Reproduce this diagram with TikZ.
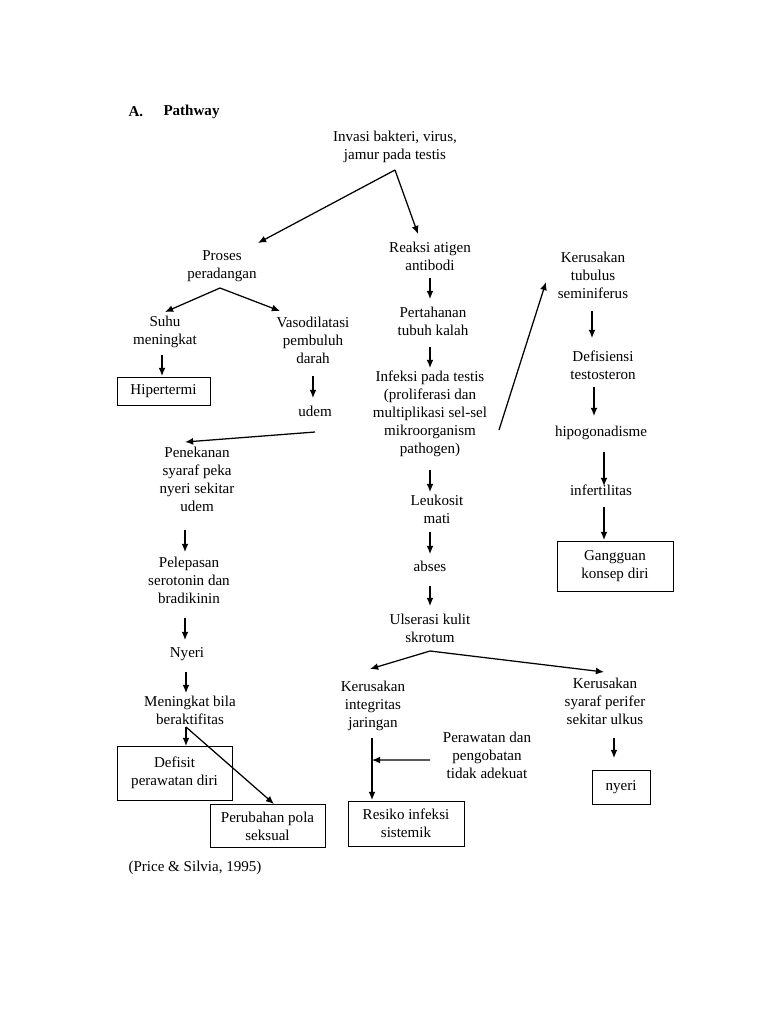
\documentclass[tikz,border=0pt]{standalone}
\usepackage{fontspec}
\setmainfont{Liberation Serif}
\usetikzlibrary{arrows.meta,calc}
\begin{document}
\begin{tikzpicture}[x=0.797pt,y=-0.797pt,
  txt/.style={align=center,inner sep=1pt,font=\fontsize{12}{14.3}\selectfont},
  box/.style={draw,line width=0.75pt,align=center,inner sep=1pt,font=\fontsize{12}{14.3}\selectfont},
  arr/.style={-{Latex[length=6.5pt,width=5.5pt]},line width=1pt}]
\useasboundingbox[fill=white] (0,0) rectangle (768,1024);

% title
\node[txt,anchor=west] (a) at (127,112) {\textbf{A.}};
\node[txt,anchor=west] (pw) at (162,112) {\textbf{Pathway}};

% nodes
\node[txt] (inv) at (395,147) {Invasi bakteri, virus,\\jamur pada testis};
\node[txt] (pro) at (222,266) {Proses\\peradangan};
\node[txt] (rea) at (430,256) {Reaksi atigen\\antibodi};
\node[txt] (suhu) at (165,332) {Suhu\\meningkat};
\node[txt] (vaso) at (313,340) {Vasodilatasi\\pembuluh\\darah};
\node[box,minimum width=74.1pt,minimum height=22.3pt] (hip) at (163.5,391) {Hipertermi};
\node[txt] (udem) at (315,411) {udem};
\node[txt] (pen) at (197,479) {Penekanan\\syaraf peka\\nyeri sekitar\\udem};
\node[txt] (pel) at (189,580) {Pelepasan\\serotonin dan\\bradikinin};
\node[txt] (nyeri) at (187,654) {Nyeri};
\node[txt] (men) at (190,710.5) {Meningkat bila\\beraktifitas};
\node[box,minimum width=91.7pt,minimum height=43pt] (defi) at (174.5,773) {Defisit\\perawatan diri};
\node[box,minimum width=91.7pt,minimum height=35pt] (perub) at (267.5,826) {Perubahan pola\\seksual};
\node[txt,anchor=west] (price) at (127,868) {(Price \& Silvia, 1995)};

\node[txt] (per) at (433,321.5) {Pertahanan\\tubuh kalah};
\node[txt] (inf) at (430,414) {Infeksi pada testis\\(proliferasi dan\\multiplikasi sel-sel\\mikroorganism\\pathogen)};
\node[txt] (leu) at (437,509) {Leukosit\\mati};
\node[txt] (abses) at (430,566) {abses};
\node[txt] (ulc) at (430,628.5) {Ulserasi kulit\\skrotum};
\node[txt] (kin) at (373,706) {Kerusakan\\integritas\\jaringan};
\node[txt] (ada) at (487,755.5) {Perawatan dan\\pengobatan\\tidak adekuat};
\node[box,minimum width=92.5pt,minimum height=35.9pt] (resiko) at (406,823.5) {Resiko infeksi\\sistemik};
\node[txt] (ksp) at (605,701) {Kerusakan\\syaraf perifer\\sekitar ulkus};
\node[box,minimum width=46.2pt,minimum height=27.1pt] (nyb) at (621,787) {nyeri};

\node[txt] (ktub) at (593,275) {Kerusakan\\tubulus\\seminiferus};
\node[txt] (def) at (603,365.5) {Defisiensi\\testosteron};
\node[txt] (hipo) at (601,433) {hipogonadisme};
\node[txt] (infert) at (601,490) {infertilitas};
\node[box,minimum width=92.5pt,minimum height=39.9pt] (gang) at (615,566) {Gangguan\\konsep diri};

% connectors
\draw[arr] ($(inv)+(0,23)$) -- ($(pro)+(36,-23)$);
\draw[arr] ($(inv)+(0,23)$) -- ($(rea)+(-12,-22)$);
\draw[arr] ($(pro)+(-2,22)$) -- ($(suhu)+(0,-20)$);
\draw[arr] ($(pro)+(-2,22)$) -- ($(vaso)+(-33,-29)$);
\draw[arr] ($(suhu)+(-3,23)$) -- ($(hip)+(-1.5,-15)$);
\draw[arr] ($(vaso)+(0,36)$) -- ($(udem)+(-2,-13)$);
\draw[arr] ($(udem)+(0,21)$) -- ($(pen)+(-12,-37)$);
\draw[arr] ($(pen)+(-12,51)$) -- ($(pel)+(-4,-28)$);
\draw[arr] ($(pel)+(-4,38)$) -- ($(nyeri)+(-2,-14)$);
\draw[arr] ($(nyeri)+(-1,18)$) -- ($(men)+(-4,-17.5)$);
\draw[arr] ($(men)+(-4,16.5)$) -- ($(defi)+(11.5,-27)$);
\draw[arr] ($(men)+(-4,16.5)$) -- ($(perub)+(6.5,-22)$);

\draw[arr] ($(rea)+(0,22)$) -- ($(per)+(-3,-22.5)$);
\draw[arr] ($(per)+(-3,25.5)$) -- ($(inf)+(0,-46)$);
\draw[arr] ($(inf)+(69,16)$) -- ($(ktub)+(-47,7)$);
\draw[arr] ($(inf)+(0,56)$) -- ($(leu)+(-7,-17)$);
\draw[arr] ($(leu)+(-7,23)$) -- ($(abses)+(0,-12)$);
\draw[arr] ($(abses)+(0,20)$) -- ($(ulc)+(0,-22.5)$);
\draw[arr] ($(ulc)+(0,22.5)$) -- ($(kin)+(-3,-37)$);
\draw[arr] ($(ulc)+(0,22.5)$) -- ($(ksp)+(-1,-29)$);
\draw[arr] ($(kin)+(-1,32)$) -- coordinate[pos=0.355] (j) ($(resiko)+(-34,-23.5)$);
\draw[arr] ($(ada)+(-57,4.5)$) -- (j);
\draw[arr] ($(ksp)+(9,37)$) -- ($(nyb)+(-7,-29)$);

\draw[arr] ($(ktub)+(-1,36)$) -- ($(def)+(-11,-27.5)$);
\draw[arr] ($(def)+(-9,21.5)$) -- ($(hipo)+(-7,-17)$);
\draw[arr] ($(hipo)+(3,19)$) -- ($(infert)+(3,-4)$);
\draw[arr] ($(infert)+(3,17)$) -- ($(gang)+(-11,-26)$);
\end{tikzpicture}
\end{document}
